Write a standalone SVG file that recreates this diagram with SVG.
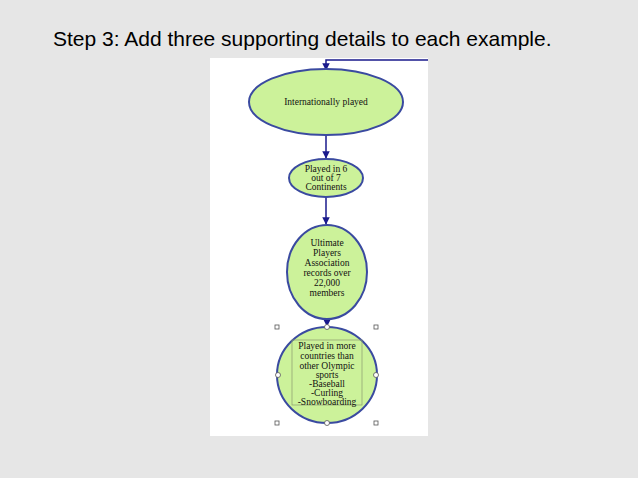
<svg xmlns="http://www.w3.org/2000/svg" width="638" height="478" viewBox="0 0 638 478">
<defs>
<style>
.n{fill:#ccf29a;stroke:#3a4aa0;stroke-width:2}
.t{font-family:"Liberation Serif",serif;font-size:9.5px;fill:#111;text-anchor:middle}
.c{stroke:#1a1a8c;stroke-width:1.5;fill:none}
.h{fill:#fff;stroke:#555;stroke-width:0.8}
</style>
<marker id="a" viewBox="0 0 10 10" refX="9" refY="5" markerWidth="5" markerHeight="6" orient="auto"><path d="M0,0L10,5L0,10z" fill="#1a1a8c"/></marker>
</defs>
<rect width="638" height="478" fill="#e6e6e6"/>
<text x="53" y="46" font-family="Liberation Sans,sans-serif" font-size="21" fill="#000">Step 3: Add three supporting details to each example.</text>
<rect x="210" y="58" width="218" height="378" fill="#fff"/>
<g id="connectors">
<path class="c" d="M428,60H326V70" marker-end="url(#a)"/>
<path class="c" d="M326,135V158" marker-end="url(#a)"/>
<path class="c" d="M326,197V224" marker-end="url(#a)"/>
<path class="c" d="M327,319V326" marker-end="url(#a)"/>
</g>
<g id="n1"><ellipse class="n" cx="326" cy="102" rx="77" ry="33"/><text class="t" x="326" y="105">Internationally played</text></g>
<g id="n2"><ellipse class="n" cx="326" cy="178" rx="37" ry="19"/><text class="t" x="326" y="172">Played in 6</text><text class="t" x="326" y="181">out of 7</text><text class="t" x="326" y="190">Continents</text></g>
<g id="n3"><ellipse class="n" cx="327" cy="272" rx="40" ry="47"/>
<text class="t" x="327" y="246">Ultimate</text><text class="t" x="327" y="256">Players</text><text class="t" x="327" y="266">Association</text><text class="t" x="327" y="276">records over</text><text class="t" x="327" y="286">22,000</text><text class="t" x="327" y="296">members</text></g>
<g id="n4"><ellipse class="n" cx="327" cy="375" rx="50" ry="48"/>
<rect x="292" y="340" width="70" height="65" fill="none" stroke="#8a9a70" stroke-width="0.7"/>
<text class="t" x="327" y="349">Played in more</text><text class="t" x="327" y="359">countries than</text><text class="t" x="327" y="369">other Olympic</text><text class="t" x="327" y="378">sports</text><text class="t" x="327" y="387">-Baseball</text><text class="t" x="327" y="396">-Curling</text><text class="t" x="327" y="405">-Snowboarding</text>
<rect class="h" x="275" y="325" width="4" height="4"/><rect class="h" x="374" y="325" width="4" height="4"/><rect class="h" x="275" y="421" width="4" height="4"/><rect class="h" x="374" y="421" width="4" height="4"/>
<circle class="h" cx="327" cy="327" r="2.5"/><circle class="h" cx="278" cy="375" r="2.5"/><circle class="h" cx="376" cy="375" r="2.5"/><circle class="h" cx="327" cy="423" r="2.5"/></g>
</svg>
